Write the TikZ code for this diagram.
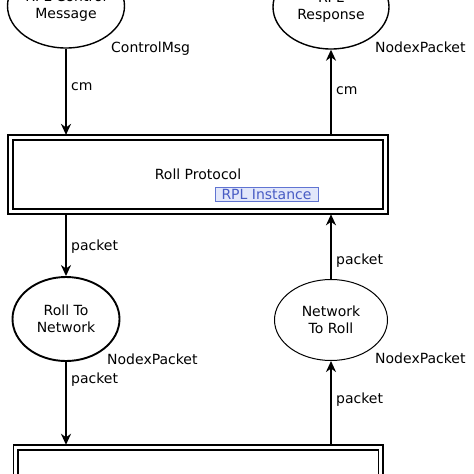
\documentclass[tikz,border=0pt]{standalone}
\usepackage{fontspec}
\setmainfont{DejaVu Sans}
\usetikzlibrary{shapes.geometric,arrows.meta}
\definecolor{rpltext}{RGB}{72,92,196}
\definecolor{rplfill}{RGB}{226,231,250}
\definecolor{rpledge}{RGB}{96,116,210}
\tikzset{
  place/.style={ellipse, draw, inner sep=0pt, align=center, font=\fontsize{14}{17}\selectfont},
  lbl/.style={inner sep=0pt, font=\fontsize{14}{17}\selectfont},
  trans/.style={rectangle, draw, double, double distance=3pt, line width=1.8pt, inner sep=0pt, outer sep=2.7pt, font=\fontsize{14}{17}\selectfont},
  arr/.style={line width=2pt, -{Stealth[length=11pt,width=10pt,inset=3.5pt]}},
}
\begin{document}
\begin{tikzpicture}[x=1pt,y=-1pt]
\useasboundingbox (0,0) rectangle (474,474);
\clip (0,0) rectangle (474,474);
% places
\node[place, line width=1.4pt, minimum width=117pt, minimum height=84pt] (cmsg) at (66,6) {RPL Control\\Message};
\node[place, line width=1.4pt, minimum width=116pt, minimum height=84pt] (resp) at (331,7) {RPL\\Response};
\node[place, line width=1.9pt, minimum width=107pt, minimum height=84pt] (rtn) at (66,319) {Roll To\\Network};
\node[place, line width=1pt, minimum width=113pt, minimum height=81pt] (ntr) at (331,320) {Network\\To Roll};
% transitions
\node[trans, minimum width=375pt, minimum height=74pt] (proto) at (198,174.6) {Roll Protocol};
\node[draw=rpledge, fill=rplfill, text=rpltext, line width=0.9pt, inner sep=0pt, minimum width=103pt, minimum height=14pt, font=\fontsize{14}{17}\selectfont] (inst) at (266.5,194) {RPL Instance};
\node[trans, minimum width=365pt, minimum height=80pt] (net) at (198.4,487.5) {};
% labels
\node[lbl, anchor=base west] (t1) at (111,52.5) {ControlMsg};
\node[lbl, anchor=base west] (t2) at (375,52.5) {NodexPacket};
\node[lbl, anchor=base west] (t3) at (107,364) {NodexPacket};
\node[lbl, anchor=base west] (t4) at (375,363) {NodexPacket};
\node[lbl, anchor=base west] (a1) at (71,90) {cm};
\node[lbl, anchor=base west] (a2) at (336,94) {cm};
\node[lbl, anchor=base west] (a3) at (71,250) {packet};
\node[lbl, anchor=base west] (a4) at (336,264) {packet};
\node[lbl, anchor=base west] (a5) at (71,383) {packet};
\node[lbl, anchor=base west] (a6) at (336,403) {packet};
% arcs
\draw[arr] (cmsg.south) -- (proto.north -| cmsg.south);
\draw[arr] (proto.north -| resp.south) -- (resp.south);
\draw[arr] (proto.south -| rtn.north) -- (rtn.north);
\draw[arr] (ntr.north) -- (proto.south -| ntr.north);
\draw[arr] (rtn.south) -- (net.north -| rtn.south);
\draw[arr] (net.north -| ntr.south) -- (ntr.south);
\end{tikzpicture}
\end{document}
